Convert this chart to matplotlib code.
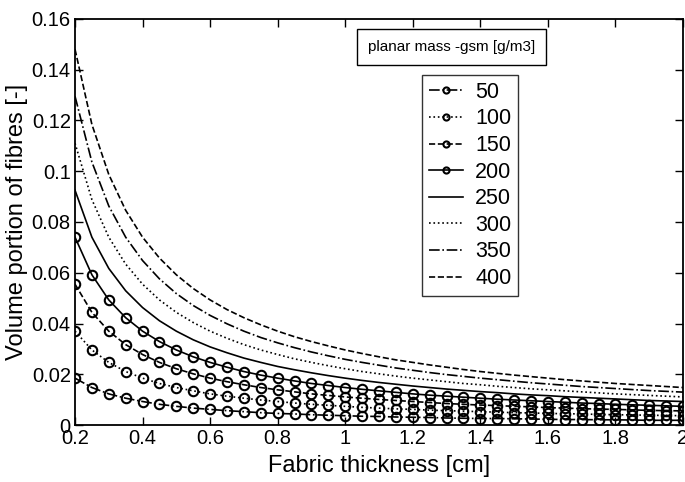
import matplotlib
matplotlib.use("Agg")
import matplotlib.pyplot as plt
from matplotlib.ticker import FormatStrFormatter, MultipleLocator

plt.rcParams['font.family'] = ['Liberation Sans', 'DejaVu Sans']

thickness = [0.20, 0.25, 0.30, 0.35, 0.40, 0.45, 0.50, 0.55, 0.60, 0.65,
             0.70, 0.75, 0.80, 0.85, 0.90, 0.95, 1.00, 1.05, 1.10, 1.15,
             1.20, 1.25, 1.30, 1.35, 1.40, 1.45, 1.50, 1.55, 1.60, 1.65,
             1.70, 1.75, 1.80, 1.85, 1.90, 1.95, 2.00]

gsm_labels = ['50', '100', '150', '200', '250', '300', '350', '400']

v50 = [0.0185, 0.0148, 0.0123, 0.0106, 0.0093, 0.0082, 0.0074, 0.0067, 0.0062, 0.0057,
       0.0053, 0.0049, 0.0046, 0.0044, 0.0041, 0.0039, 0.0037, 0.0035, 0.0034, 0.0032,
       0.0031, 0.0030, 0.0028, 0.0027, 0.0026, 0.0026, 0.0025, 0.0024, 0.0023, 0.0022,
       0.0022, 0.0021, 0.0021, 0.0020, 0.0019, 0.0019, 0.0019]
v100 = [0.0370, 0.0296, 0.0247, 0.0211, 0.0185, 0.0164, 0.0148, 0.0135, 0.0123, 0.0114,
        0.0106, 0.0099, 0.0093, 0.0087, 0.0082, 0.0078, 0.0074, 0.0070, 0.0067, 0.0064,
        0.0062, 0.0059, 0.0057, 0.0055, 0.0053, 0.0051, 0.0049, 0.0048, 0.0046, 0.0045,
        0.0044, 0.0042, 0.0041, 0.0040, 0.0039, 0.0038, 0.0037]
v150 = [0.0555, 0.0444, 0.0370, 0.0317, 0.0278, 0.0247, 0.0222, 0.0202, 0.0185, 0.0171,
        0.0159, 0.0148, 0.0139, 0.0131, 0.0123, 0.0117, 0.0111, 0.0106, 0.0101, 0.0097,
        0.0093, 0.0089, 0.0085, 0.0082, 0.0079, 0.0077, 0.0074, 0.0072, 0.0069, 0.0067,
        0.0065, 0.0063, 0.0062, 0.0060, 0.0058, 0.0057, 0.0056]
v200 = [0.0740, 0.0592, 0.0493, 0.0423, 0.0370, 0.0329, 0.0296, 0.0269, 0.0247, 0.0228,
        0.0211, 0.0197, 0.0185, 0.0174, 0.0164, 0.0156, 0.0148, 0.0141, 0.0135, 0.0129,
        0.0123, 0.0118, 0.0114, 0.0110, 0.0106, 0.0102, 0.0099, 0.0096, 0.0093, 0.0090,
        0.0087, 0.0085, 0.0082, 0.0080, 0.0078, 0.0076, 0.0074]
v250 = [0.0925, 0.0740, 0.0617, 0.0529, 0.0463, 0.0411, 0.0370, 0.0336, 0.0308, 0.0285,
        0.0264, 0.0247, 0.0231, 0.0218, 0.0206, 0.0195, 0.0185, 0.0176, 0.0168, 0.0161,
        0.0154, 0.0148, 0.0142, 0.0137, 0.0132, 0.0128, 0.0123, 0.0119, 0.0116, 0.0112,
        0.0109, 0.0106, 0.0103, 0.0100, 0.0097, 0.0095, 0.0093]
v300 = [0.1110, 0.0888, 0.0740, 0.0634, 0.0555, 0.0493, 0.0444, 0.0404, 0.0370, 0.0342,
        0.0317, 0.0296, 0.0278, 0.0261, 0.0247, 0.0234, 0.0222, 0.0211, 0.0202, 0.0193,
        0.0185, 0.0178, 0.0171, 0.0164, 0.0159, 0.0153, 0.0148, 0.0143, 0.0139, 0.0135,
        0.0131, 0.0127, 0.0123, 0.0120, 0.0117, 0.0114, 0.0111]
v350 = [0.1295, 0.1036, 0.0863, 0.0740, 0.0648, 0.0576, 0.0518, 0.0471, 0.0432, 0.0399,
        0.0370, 0.0345, 0.0324, 0.0305, 0.0288, 0.0273, 0.0259, 0.0247, 0.0236, 0.0225,
        0.0216, 0.0207, 0.0199, 0.0192, 0.0185, 0.0179, 0.0173, 0.0167, 0.0162, 0.0157,
        0.0152, 0.0148, 0.0144, 0.0140, 0.0136, 0.0133, 0.0130]
v400 = [0.1480, 0.1184, 0.0987, 0.0846, 0.0740, 0.0658, 0.0592, 0.0538, 0.0493, 0.0455,
        0.0423, 0.0395, 0.0370, 0.0348, 0.0329, 0.0312, 0.0296, 0.0282, 0.0269, 0.0257,
        0.0247, 0.0237, 0.0228, 0.0219, 0.0211, 0.0204, 0.0197, 0.0191, 0.0185, 0.0179,
        0.0174, 0.0169, 0.0164, 0.0160, 0.0156, 0.0152, 0.0148]

series = [v50, v100, v150, v200, v250, v300, v350, v400]
styles = ['-.', ':', '--', '-', '-', ':', '-.', '--']
markers = ['o', 'o', 'o', 'o', None, None, None, None]

fig = plt.figure(figsize=(6.85, 4.82), dpi=100)
ax = fig.add_axes([0.1095, 0.118, 0.8875, 0.843])

for vals, ls, mk, lab in zip(series, styles, markers, gsm_labels):
    ax.plot(thickness, vals, color='black', linestyle=ls, linewidth=1.2,
            marker=mk, markersize=6.8, markerfacecolor='none',
            markeredgewidth=1.5, label=lab)

ax.set_xlim(0.2, 2)
ax.set_ylim(0, 0.16)
ax.xaxis.set_major_locator(MultipleLocator(0.2))
ax.yaxis.set_major_locator(MultipleLocator(0.02))
ax.xaxis.set_major_formatter(FormatStrFormatter('%g'))
ax.yaxis.set_major_formatter(FormatStrFormatter('%g'))
ax.tick_params(direction='in', top=True, right=True, labelsize=14.5,
               length=6, width=1, pad=3)
for s in ax.spines.values():
    s.set_linewidth(1.3)

ax.set_xlabel('Fabric thickness [cm]', fontsize=17, labelpad=5)
ax.set_ylabel('Volume portion of fibres [-]', fontsize=17, labelpad=3)

leg = ax.legend(loc='upper left', bbox_to_anchor=(422 / 685, 1 - 75 / 482),
                bbox_transform=fig.transFigure, fontsize=15.5, frameon=True,
                fancybox=False, edgecolor='black', handlelength=1.6,
                handletextpad=0.55, labelspacing=0.26, borderpad=0.32,
                borderaxespad=0, markerscale=0.65)
leg.get_frame().set_linewidth(1.0)

fig.text(368 / 685, 1 - 47 / 482, 'planar mass -gsm [g/m3]', fontsize=11,
         va='center', ha='left',
         bbox=dict(boxstyle='square,pad=0.7', facecolor='white',
                   edgecolor='black', linewidth=1.0))

fig.savefig('out.png', dpi=100)
